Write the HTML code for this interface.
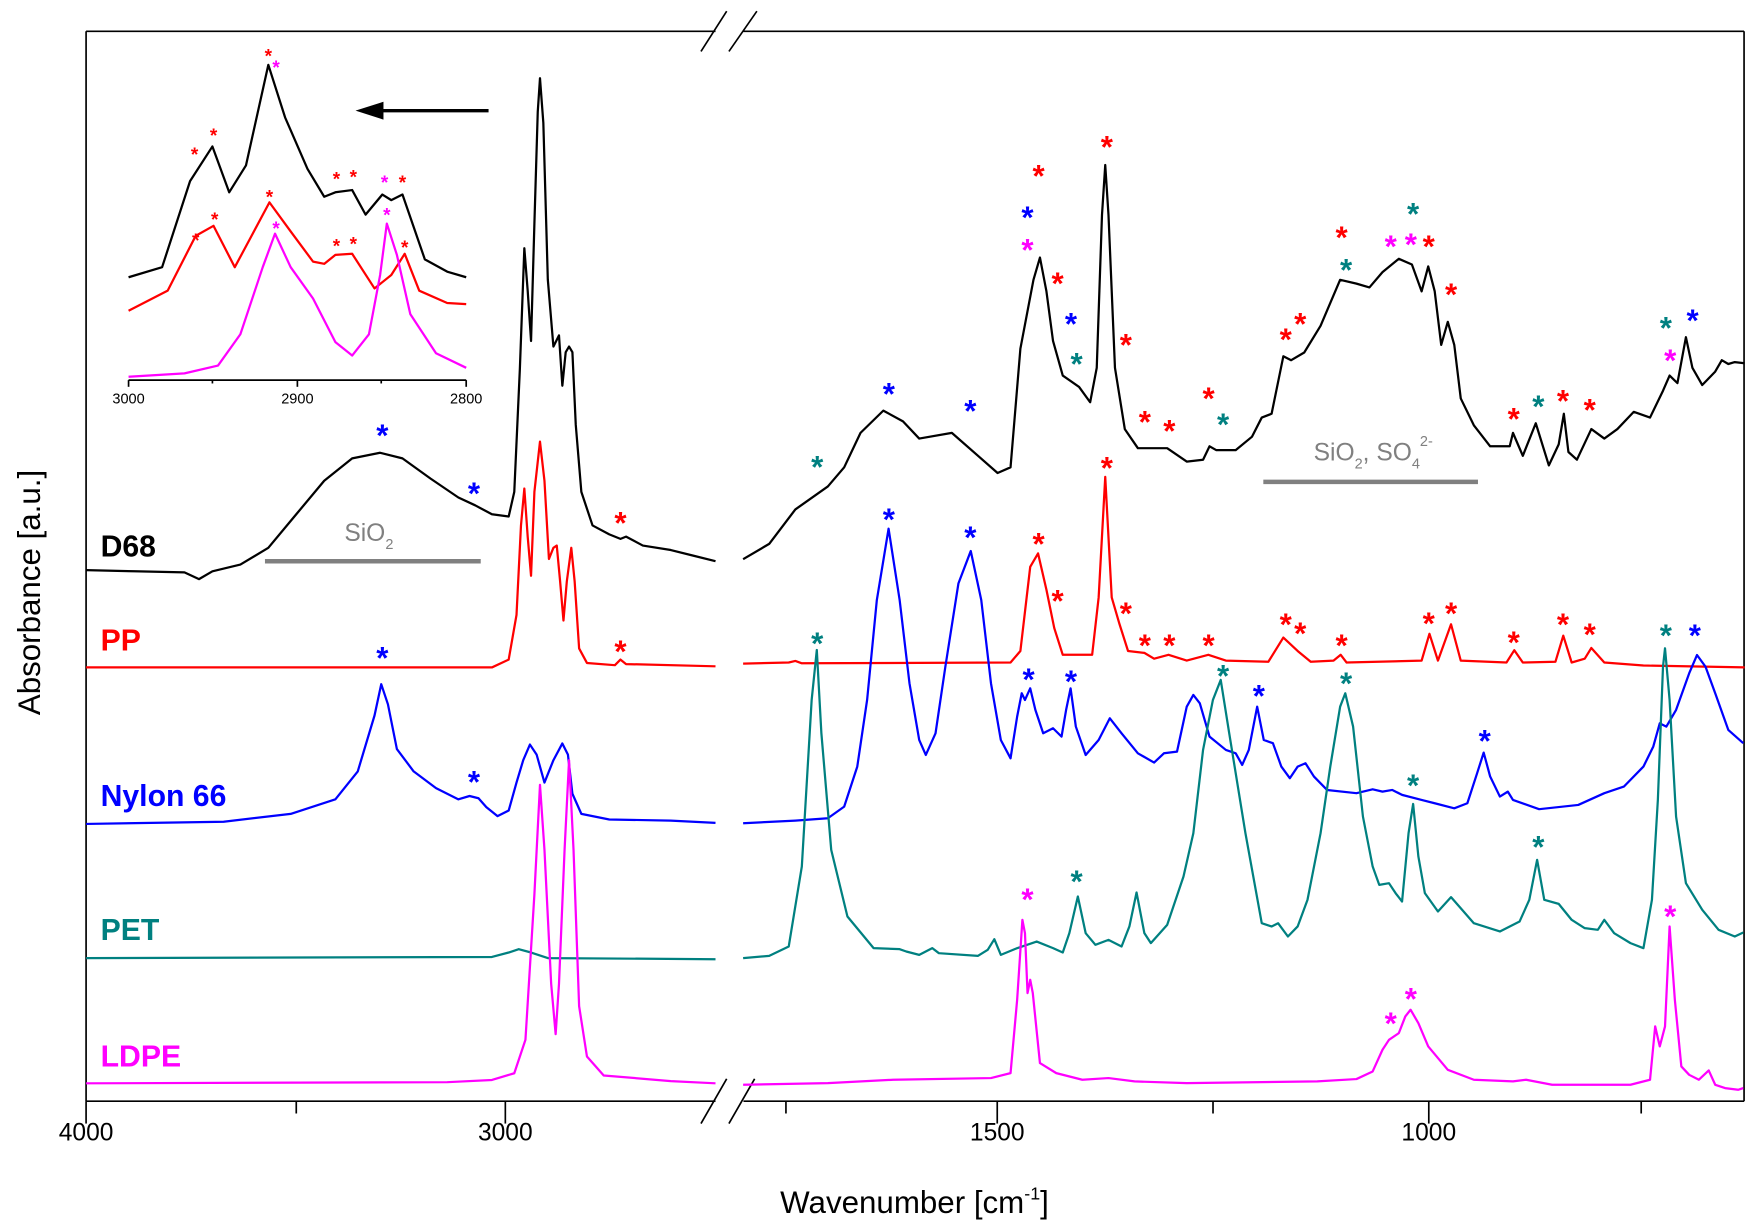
<!DOCTYPE html>
<html><head><meta charset="utf-8">
<style>
html,body{margin:0;padding:0;background:#fff;}
svg{display:block;}
text{font-family:"Liberation Sans",Arial,sans-serif;}
.st{font-size:28px;font-weight:bold;}
.sti{font-size:17px;font-weight:bold;}
</style></head><body>
<svg id="s" width="1753" height="1232" viewBox="0 0 1568 1102" preserveAspectRatio="none" xmlns="http://www.w3.org/2000/svg">
<rect width="1568" height="1102" fill="#fff"/>
<g stroke="#000" stroke-width="1.5" fill="none">
<line x1="77" y1="28" x2="640" y2="28"/>
<line x1="665" y1="28" x2="1560" y2="28"/>
<line x1="77" y1="985" x2="640" y2="985"/>
<line x1="665" y1="985" x2="1560" y2="985"/>
<line x1="77" y1="28" x2="77" y2="985"/>
<line x1="1560" y1="28" x2="1560" y2="985"/>
<line x1="627" y1="46" x2="650" y2="10"/>
<line x1="652" y1="46" x2="677" y2="10"/>
<line x1="627" y1="1005" x2="650" y2="965"/>
<line x1="652" y1="1005" x2="675" y2="965"/>
<line x1="77" y1="985" x2="77" y2="1005"/>
<line x1="452" y1="985" x2="452" y2="1005"/>
<line x1="892" y1="985" x2="892" y2="1005"/>
<line x1="1278" y1="985" x2="1278" y2="1005"/>
<line x1="265" y1="985" x2="265" y2="996"/>
<line x1="703" y1="985" x2="703" y2="996"/>
<line x1="1085" y1="985" x2="1085" y2="996"/>
<line x1="1468" y1="985" x2="1468" y2="996"/>
<line x1="115" y1="340" x2="417" y2="340"/>
<line x1="115" y1="340" x2="115" y2="346"/>
<line x1="266" y1="340" x2="266" y2="346"/>
<line x1="417" y1="340" x2="417" y2="346"/>
<line x1="190" y1="340" x2="190" y2="343"/>
<line x1="341" y1="340" x2="341" y2="343"/>
</g>
<g font-size="22" text-anchor="middle" fill="#000">
<text x="77" y="1020">4000</text>
<text x="452" y="1020">3000</text>
<text x="892" y="1020">1500</text>
<text x="1278" y="1020">1000</text>
</g>
<g font-size="13" text-anchor="middle" fill="#000">
<text x="115" y="361">3000</text>
<text x="266" y="361">2900</text>
<text x="417" y="361">2800</text>
</g>
<text x="818" y="1085" font-size="28" text-anchor="middle">Wavenumber [cm<tspan dy="-12" font-size="16">-1</tspan><tspan dy="12">]</tspan></text>
<text transform="translate(36,530) rotate(-90)" font-size="28" text-anchor="middle">Absorbance [a.u.]</text>
<line x1="437" y1="99" x2="335" y2="99" stroke="#000" stroke-width="3"/>
<polygon points="318,99 343,91 343,107" fill="#000"/>
<line x1="237" y1="502" x2="430" y2="502" stroke="#808080" stroke-width="4"/>
<line x1="1130" y1="431" x2="1322" y2="431" stroke="#808080" stroke-width="4"/>
<text x="308" y="484" font-size="22" fill="#808080">SiO<tspan dy="7" font-size="13">2</tspan></text>
<text x="1175" y="412" font-size="22" fill="#808080">SiO<tspan dy="7" font-size="13">2</tspan><tspan dy="-7">, SO</tspan><tspan dy="7" font-size="13">4</tspan><tspan dy="-20" font-size="13">2-</tspan></text>
<g font-size="27" font-weight="bold">
<text x="90" y="498" fill="#000">D68</text>
<text x="90" y="582" fill="#ff0000">PP</text>
<text x="90" y="721" fill="#0000ff">Nylon 66</text>
<text x="90" y="841" fill="#008080">PET</text>
<text x="90" y="954" fill="#ff00ff">LDPE</text>
</g>
<g id="curves" fill="none" stroke-width="2" stroke-linejoin="round"></g>
<g id="stars" text-anchor="middle"></g>
</svg>
<script>
var ns="http://www.w3.org/2000/svg";
function add(pts,col,fx){
  var d="";
  pts.forEach(function(p,i){var q=fx?fx(p):p;d+=(i?"L":"M")+q[0].toFixed(1)+","+q[1].toFixed(1);});
  var e=document.createElementNS(ns,"path");e.setAttribute("d",d);e.setAttribute("stroke",col);
  document.getElementById("curves").appendChild(e);
}
function z3(p){return [653+p[0]*0.5836,89.4+p[1]*0.3423];}
function z4(p){return [653+p[0]*0.5836,536.7+p[1]*0.298];}
var K="#000",R="#ff0000",B="#0000ff",T="#008080",M="#ff00ff";
add([[115,248],[145,239],[170,162],[190,131],[205,172],[220,148],[240,58],[255,105],[275,151],[290,176],[300,172],[315,170],[327,192],[342,174],[350,179],[360,174],[380,232],[400,243],[417,248]],K);
add([[115,278],[150,260],[175,211],[191,202],[210,239],[225,211],[241,181],[260,207],[280,234],[290,236],[300,228],[315,227],[335,258],[350,246],[362,227],[375,260],[400,271],[417,272]],R);
add([[115,337],[165,334],[195,327],[215,299],[235,239],[246,209],[260,239],[280,267],[300,306],[315,318],[330,299],[340,246],[346,200],[355,228],[367,281],[390,316],[417,329]],M);
add([[77,510],[120,511],[165,512],[178,518],[190,511],[215,505],[240,490],[265,460],[290,430],[315,410],[340,405],[360,410],[385,428],[410,445],[425,452],[440,460],[455,462],[460,440],[465,330],[469,222],[472,260],[475,305],[478,200],[481,100],[483,70],[486,110],[490,250],[495,310],[500,300],[503,345],[506,315],[509,310],[512,315],[515,380],[520,440],[530,470],[545,478],[555,482],[560,480],[575,488],[600,492],[620,497],[640,502]],K);
add([[77,597],[440,597],[455,590],[462,550],[466,470],[469,437],[472,480],[475,515],[478,440],[483,395],[487,430],[491,500],[495,490],[498,488],[501,520],[504,555],[507,520],[511,490],[514,520],[518,580],[525,593],[550,595],[555,590],[560,594],[640,596]],R);
add([[77,737],[200,735],[260,728],[300,715],[320,690],[335,640],[341,612],[347,630],[355,670],[370,690],[390,705],[410,715],[420,712],[428,714],[435,722],[445,730],[455,725],[462,700],[468,680],[474,666],[480,675],[487,700],[495,680],[503,665],[508,675],[512,710],[520,728],[545,733],[600,734],[640,736]],B);
add([[77,857],[440,856],[455,852],[464,849],[475,852],[490,857],[640,858]],T);
add([[77,969],[400,968],[440,966],[460,960],[470,930],[478,800],[483,702],[487,760],[493,880],[497,925],[500,880],[505,760],[509,680],[513,760],[518,900],[525,945],[540,962],[600,967],[640,969]],M);
add([[20,1200],[60,1160],[100,1070],[150,1010],[175,960],[200,870],[235,812],[265,840],[290,885],[340,870],[380,930],[410,975],[430,960],[445,650],[465,470],[475,412],[485,500],[495,630],[510,720],[535,750],[552,790],[562,700],[570,300],[575,170],[580,300],[590,700],[605,860],[625,910],[670,910],[700,945],[725,940],[735,905],[745,915],[775,915],[800,880],[815,830],[830,820],[848,670],[860,680],[880,660],[905,590],[935,470],[960,480],[980,490],[1000,450],[1025,415],[1045,430],[1060,500],[1070,435],[1080,500],[1090,640],[1100,580],[1110,640],[1120,780],[1140,850],[1165,905],[1195,905],[1200,870],[1215,930],[1235,845],[1255,955],[1270,900],[1278,820],[1285,920],[1298,940],[1320,860],[1340,885],[1360,860],[1385,815],[1410,830],[1430,760],[1440,720],[1452,740],[1465,620],[1475,700],[1490,745],[1510,710],[1520,680],[1530,690],[1540,685],[1555,688]],K,z3);
add([[20,1473],[90,1470],[100,1466],[110,1472],[430,1470],[445,1440],[460,1220],[472,1185],[485,1280],[497,1380],[510,1450],[555,1450],[565,1300],[575,985],[585,1300],[597,1370],[610,1440],[635,1445],[650,1460],[672,1450],[700,1465],[733,1450],[760,1465],[825,1468],[848,1405],[870,1440],[890,1468],[925,1465],[936,1450],[945,1470],[1060,1465],[1072,1395],[1085,1465],[1105,1370],[1120,1465],[1190,1470],[1202,1438],[1215,1470],[1265,1468],[1277,1400],[1290,1470],[1310,1460],[1320,1432],[1340,1470],[1400,1478],[1555,1483]],R,z3);
add([[20,670],[100,662],[150,655],[175,620],[195,500],[210,300],[225,0],[243,-214],[260,0],[275,250],[290,420],[300,465],[315,400],[330,200],[350,-50],[369,-147],[385,0],[400,250],[415,420],[430,475],[440,350],[447,280],[452,300],[460,265],[468,330],[480,400],[495,385],[508,410],[515,330],[522,265],[530,380],[545,465],[565,420],[582,355],[600,400],[625,460],[650,488],[665,460],[685,455],[700,320],[710,285],[720,310],[735,410],[760,450],[775,460],[785,495],[795,450],[808,320],[818,420],[832,430],[845,500],[858,535],[870,500],[882,490],[895,530],[915,570],[960,580],[985,568],[1000,575],[1015,570],[1030,585],[1060,600],[1080,610],[1110,625],[1130,610],[1145,520],[1155,458],[1165,530],[1180,590],[1192,575],[1200,600],[1240,628],[1300,615],[1340,580],[1370,560],[1400,500],[1415,440],[1425,370],[1435,380],[1450,330],[1470,220],[1482,165],[1495,200],[1510,280],[1530,390],[1553,430]],B,z4);
add([[20,1075],[60,1068],[90,1040],[110,800],[125,300],[133,150],[140,400],[155,750],[180,950],[220,1045],[260,1048],[270,1055],[290,1065],[310,1045],[320,1060],[380,1068],[395,1050],[405,1018],[415,1065],[440,1045],[470,1025],[495,1045],[510,1058],[520,1000],[533,890],[545,1000],[560,1035],[580,1020],[600,1040],[612,980],[623,878],[635,1000],[645,1030],[670,975],[695,830],[710,700],[725,450],[740,300],[752,240],[765,400],[790,700],[815,970],[830,980],[840,970],[855,1010],[870,980],[885,900],[905,700],[920,500],[935,320],[943,280],[955,380],[970,650],[985,800],[995,855],[1010,850],[1020,880],[1030,905],[1040,700],[1047,612],[1055,770],[1065,880],[1085,935],[1105,892],[1120,925],[1140,970],[1180,995],[1210,965],[1225,900],[1237,780],[1248,900],[1270,912],[1290,960],[1310,985],[1330,990],[1340,960],[1355,1000],[1380,1030],[1400,1045],[1413,900],[1422,600],[1430,200],[1433,145],[1440,300],[1450,650],[1465,850],[1490,930],[1515,990],[1540,1010],[1553,998]],T,z4);
add([[20,1455],[150,1450],[250,1440],[400,1435],[430,1420],[440,1200],[448,960],[452,1000],[456,1180],[460,1140],[464,1180],[475,1390],[500,1420],[540,1440],[580,1435],[620,1445],[700,1450],[900,1445],[960,1438],[985,1415],[1000,1350],[1010,1320],[1025,1300],[1035,1250],[1043,1230],[1055,1270],[1070,1340],[1100,1410],[1140,1440],[1200,1445],[1220,1440],[1260,1455],[1380,1455],[1410,1440],[1418,1280],[1425,1340],[1433,1280],[1440,980],[1448,1200],[1458,1400],[1470,1425],[1485,1440],[1500,1412],[1510,1455],[1525,1465],[1545,1470],[1553,1465]],M,z4);
function star(x,y,c,small){
  var t=document.createElementNS(ns,"text");
  t.setAttribute("x",x);t.setAttribute("y",y+(small?9:15));
  t.setAttribute("fill",c);t.setAttribute("class",small?"sti":"st");
  t.textContent="*";document.getElementById("stars").appendChild(t);
}
var S=[
[342,384,B],[424,436,B],[555,462,R],
[731,412,T],[795,347,B],[868,362,B],[919,189,B],[919,218,M],[929,152,R],[946,248,R],[958,284,B],[963,320,T],[990,126,R],[1007,303,R],[1024,372,R],[1046,380,R],[1081,351,R],[1094,374,T],[1150,298,R],[1163,284,R],[1200,207,R],[1204,236,T],[1244,215,M],[1262,213,M],[1264,186,T],[1278,215,R],[1298,258,R],[1354,369,R],[1376,358,T],[1398,353,R],[1422,361,R],[1490,288,T],[1514,281,B],[1494,317,M],
[342,583,B],[555,577,R],[731,570,T],[795,459,B],[868,475,B],[929,481,R],[946,532,R],[990,413,R],[1007,543,R],[1024,572,R],[1046,572,R],[1081,572,R],[1150,553,R],[1163,561,R],[1200,572,R],[1278,552,R],[1298,543,R],[1354,569,R],[1398,553,R],[1422,562,R],[1490,563,T],[1516,563,B],
[424,694,B],[920,602,B],[958,604,B],[1094,599,T],[1126,617,B],[1204,606,T],[1328,657,B],[1264,697,T],
[963,783,T],[1376,752,T],[919,799,M],
[1244,910,M],[1262,888,M],[1494,814,M]];
S.forEach(function(s){star(s[0],s[1],s[2],false);});
var SI=[[174,135,R],[191,118,R],[240,47,R],[247,57,M],[301,157,R],[316,155,R],[344,160,M],[360,160,R],
[175,212,R],[192,193,R],[241,173,R],[247,201,M],[301,217,R],[316,215,R],[346,189,M],[362,218,R]];
SI.forEach(function(s){star(s[0],s[1],s[2],true);});
</script>
</body></html>
